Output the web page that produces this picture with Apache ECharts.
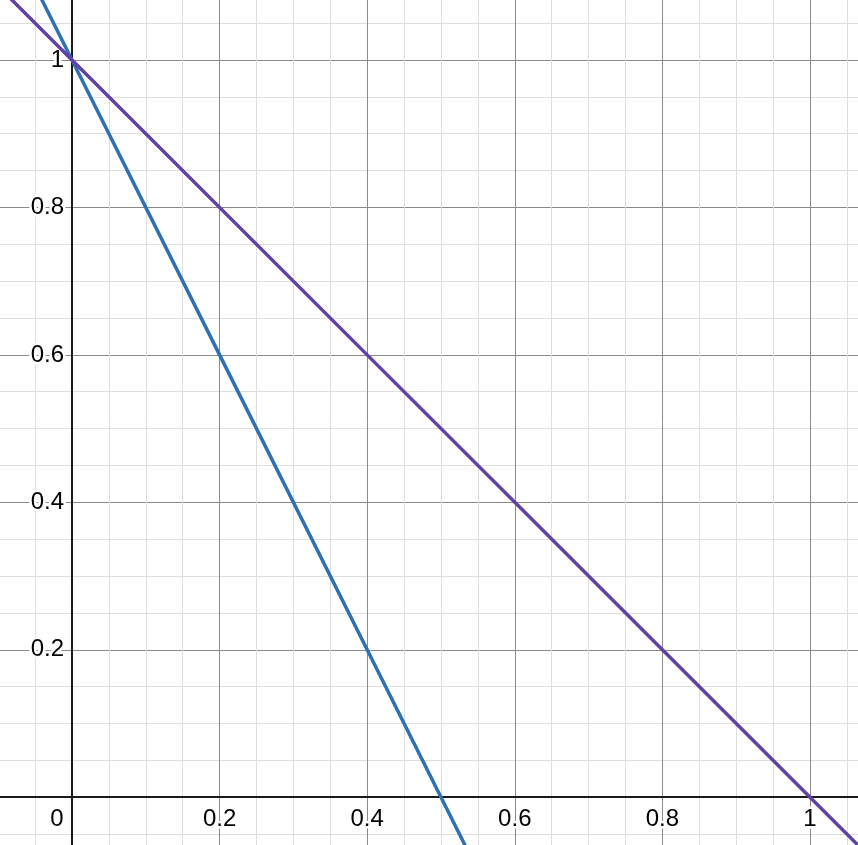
<!DOCTYPE html>
<html>
<head>
<meta charset="utf-8">
<script src="https://cdn.jsdelivr.net/npm/echarts@6/dist/echarts.min.js"></script>
<style>
  html, body { margin: 0; padding: 0; background: #fff; }
  #chart { width: 858px; height: 845px; }
</style>
</head>
<body>
<div id="chart"></div>
<script>
// points (grid crossings)
const blueX = [-0.1, 0, 0.2, 0.4, 0.5, 0.6];
const blueY = [1.2, 1, 0.6, 0.2, 0, -0.2];
const purpleX = [-0.1, 0, 0.4, 0.6, 0.8, 1, 1.1];
const purpleY = [1.1, 1, 0.6, 0.4, 0.2, 0, -0.1];
const tickStep = 0.2;
const axisMin = -0.2, axisMax = 1.2;

const pair = (xs, ys) => xs.map((x, i) => [x, ys[i]]);
const fmt = v => String(Math.round(v * 10) / 10);

const chart = echarts.init(document.getElementById('chart'), null, { renderer: 'canvas' });

// plot area spills past the canvas so the visible window is x ≈ -0.098..1.065, y ≈ -0.065..1.081
const pxX = 738, pxY = 737.2;
const gridLeft = 72 + axisMin * pxX, gridTop = 60 - (axisMax - 1) * pxY;
// shift axes from the grid edge onto the zero lines
const offX = axisMin * pxY;   // bottom edge -> y = 0
const offY = axisMin * pxX;   // left edge -> x = 0

const labelStyle = {
    color: '#000', fontSize: 24, fontFamily: 'Liberation Sans, Arial, sans-serif',
    textBorderColor: '#fff', textBorderWidth: 5,
};

chart.setOption({
    animation: false,
    backgroundColor: '#fff',
    grid: {
        left: gridLeft, top: gridTop, width: (axisMax - axisMin) * pxX, height: (axisMax - axisMin) * pxY,
        outerBoundsMode: 'none', containLabel: false,
    },
    xAxis: {
        type: 'value', min: axisMin, max: axisMax, interval: tickStep,
        position: 'bottom', offset: offX,
        axisLine: { onZero: false, lineStyle: { color: '#1a1a1a', width: 2 } },
        axisTick: { show: false },
        axisLabel: {
            ...labelStyle, margin: 10,
            formatter: v => (Math.abs(v) < 1e-9 ? '{z|0}' : (v < 0 || v > 1.05 ? '' : fmt(v))),
            rich: { z: { ...labelStyle, padding: [0, 30, 0, 0] } },
        },
        splitLine: { show: true, lineStyle: { color: '#8a8a8a', width: 1 } },
        minorTick: { show: false, splitNumber: 4 },
        minorSplitLine: { show: true, lineStyle: { color: '#dedede', width: 1 } },
        z: 3,
    },
    yAxis: {
        type: 'value', min: axisMin, max: axisMax, interval: tickStep,
        position: 'left', offset: offY,
        axisLine: { onZero: false, lineStyle: { color: '#1a1a1a', width: 2 } },
        axisTick: { show: false },
        axisLabel: {
            ...labelStyle, margin: 8,
            formatter: v => (v < 0.05 || v > 1.05 ? '' : fmt(v)),
        },
        splitLine: { show: true, lineStyle: { color: '#8a8a8a', width: 1 } },
        minorTick: { show: false, splitNumber: 4 },
        minorSplitLine: { show: true, lineStyle: { color: '#dedede', width: 1 } },
        z: 3,
    },
    series: [
        {
            name: 'blue', type: 'line', data: pair(blueX, blueY), showSymbol: false,
            lineStyle: { color: '#2d70b3', width: 3.5 }, z: 5, silent: true,
        },
        {
            name: 'purple', type: 'line', data: pair(purpleX, purpleY), showSymbol: false,
            lineStyle: { color: '#6042a6', width: 3.5 }, z: 5, silent: true,
        },
    ],
});
</script>
</body>
</html>
